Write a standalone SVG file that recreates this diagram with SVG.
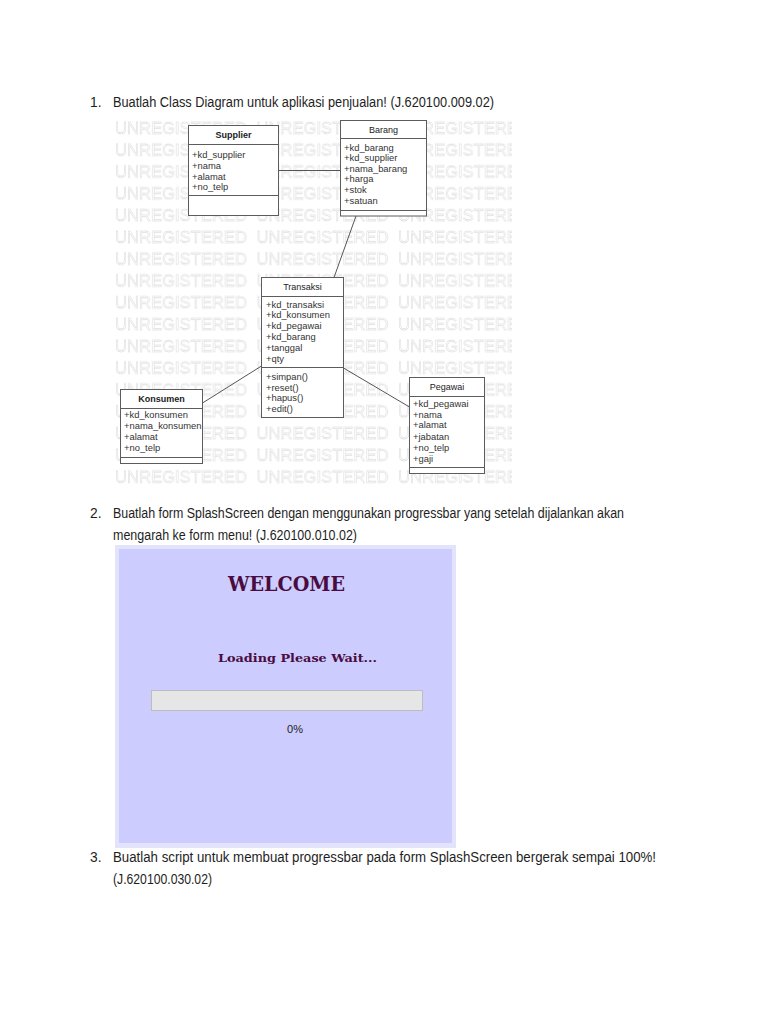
<svg xmlns="http://www.w3.org/2000/svg" width="768" height="1024" viewBox="0 0 768 1024">
<style>
.body{font-family:"Liberation Sans",Arial,sans-serif;font-size:13.8px;fill:#1e1e1e}
.box{fill:#fff;stroke:#5c5c5c;stroke-width:1}
.sep{stroke:#5c5c5c;stroke-width:1}
.t{font-family:"Liberation Sans",Arial,sans-serif;font-size:9.4px;fill:#333}
.title{font-size:9px;text-anchor:middle;fill:#222}
.b{font-weight:bold}
.conn{stroke:#555;stroke-width:1;fill:none}
.wm{font-family:"Liberation Sans",Arial,sans-serif;font-size:16.6px;fill:#fff;stroke:#d0d0d0;stroke-width:0.4}
.fancy{font-family:"DejaVu Serif",serif;font-weight:bold;fill:#4a0c40}
</style>
<defs>
<pattern id="wmp" patternUnits="userSpaceOnUse" x="113" y="117" width="141.5" height="21.8">
<text class="wm" x="2" y="17" textLength="132" lengthAdjust="spacingAndGlyphs">UNREGISTERED</text>
</pattern>
</defs>
<rect width="768" height="1024" fill="#fff"/>

<g id="text1">
<text class="body" x="90" y="107">1.</text>
<text class="body" x="113" y="107" textLength="381" lengthAdjust="spacingAndGlyphs">Buatlah Class Diagram untuk aplikasi penjualan! (J.620100.009.02)</text>
</g>

<g id="watermark">
<rect x="113" y="117" width="399" height="371" fill="url(#wmp)"/>
</g>

<g id="connectors">
<path class="conn" d="M278.5 170.5 H340.5"/>
<path class="conn" d="M356 216 L334 277.5"/>
<path class="conn" d="M202.5 403 L261.5 366"/>
<path class="conn" d="M343.5 368 L409.5 407"/>
</g>

<g id="supplier">
<rect class="box" x="188.5" y="125.5" width="90" height="90"/>
<line class="sep" x1="188.5" y1="144.5" x2="278.5" y2="144.5"/>
<line class="sep" x1="188.5" y1="195.5" x2="278.5" y2="195.5"/>
<text class="t title b" x="233.5" y="138">Supplier</text>
<text class="t" x="192" y="158">+kd_supplier</text>
<text class="t" x="192" y="169">+nama</text>
<text class="t" x="192" y="179.5">+alamat</text>
<text class="t" x="192" y="190">+no_telp</text>
</g>

<g id="barang">
<rect class="box" x="340.5" y="120.5" width="86" height="95.5"/>
<line class="sep" x1="340.5" y1="138.5" x2="426.5" y2="138.5"/>
<line class="sep" x1="340.5" y1="210.5" x2="426.5" y2="210.5"/>
<text class="t title" x="383.5" y="132.5">Barang</text>
<text class="t" x="344" y="150.5">+kd_barang</text>
<text class="t" x="344" y="161">+kd_supplier</text>
<text class="t" x="344" y="171.5">+nama_barang</text>
<text class="t" x="344" y="182">+harga</text>
<text class="t" x="344" y="192.5">+stok</text>
<text class="t" x="344" y="204">+satuan</text>
</g>

<g id="transaksi">
<rect class="box" x="261.5" y="277.5" width="82" height="140"/>
<line class="sep" x1="261.5" y1="296.5" x2="343.5" y2="296.5"/>
<line class="sep" x1="261.5" y1="367.5" x2="343.5" y2="367.5"/>
<text class="t title" x="302.5" y="290">Transaksi</text>
<text class="t" x="266" y="307.5">+kd_transaksi</text>
<text class="t" x="266" y="318">+kd_konsumen</text>
<text class="t" x="266" y="329">+kd_pegawai</text>
<text class="t" x="266" y="340">+kd_barang</text>
<text class="t" x="266" y="351">+tanggal</text>
<text class="t" x="266" y="362">+qty</text>
<text class="t" x="266" y="380">+simpan()</text>
<text class="t" x="266" y="390.5">+reset()</text>
<text class="t" x="266" y="401">+hapus()</text>
<text class="t" x="266" y="411.5">+edit()</text>
</g>

<g id="konsumen">
<rect class="box" x="120.5" y="389.5" width="82" height="74"/>
<line class="sep" x1="120.5" y1="408.5" x2="202.5" y2="408.5"/>
<line class="sep" x1="120.5" y1="457.5" x2="202.5" y2="457.5"/>
<text class="t title b" x="161.5" y="402">Konsumen</text>
<text class="t" x="124" y="417.5">+kd_konsumen</text>
<text class="t" x="124" y="428.5">+nama_konsumen</text>
<text class="t" x="124" y="439.5">+alamat</text>
<text class="t" x="124" y="451">+no_telp</text>
</g>

<g id="pegawai">
<rect class="box" x="409.5" y="377.5" width="75" height="96"/>
<line class="sep" x1="409.5" y1="396.5" x2="484.5" y2="396.5"/>
<line class="sep" x1="409.5" y1="467.5" x2="484.5" y2="467.5"/>
<text class="t title" x="447" y="390">Pegawai</text>
<text class="t" x="413" y="406.5">+kd_pegawai</text>
<text class="t" x="413" y="417.5">+nama</text>
<text class="t" x="413" y="428">+alamat</text>
<text class="t" x="413" y="439.5">+jabatan</text>
<text class="t" x="413" y="450.5">+no_telp</text>
<text class="t" x="413" y="462">+gaji</text>
</g>

<g id="text2">
<text class="body" x="90" y="518">2.</text>
<text class="body" x="113" y="518" textLength="511" lengthAdjust="spacingAndGlyphs">Buatlah form SplashScreen dengan menggunakan progressbar yang setelah dijalankan akan</text>
<text class="body" x="113" y="540" textLength="244" lengthAdjust="spacingAndGlyphs">mengarah ke form menu! (J.620100.010.02)</text>
</g>

<g id="splash">
<rect x="115" y="545" width="341" height="303" fill="#e3e3fb"/>
<rect x="119" y="549" width="333" height="294" fill="#ccccff"/>
<text class="fancy" x="228" y="591" font-size="20" textLength="117" lengthAdjust="spacingAndGlyphs">WELCOME</text>
<text class="fancy" x="218" y="662" font-size="11" textLength="159" lengthAdjust="spacingAndGlyphs">Loading Please Wait...</text>
<rect x="151.5" y="690.5" width="271" height="20" fill="#e6e6e6" stroke="#bdbdbd" stroke-width="1"/>
<text x="295" y="733" font-family="Liberation Sans, Arial, sans-serif" font-size="11" fill="#222" text-anchor="middle">0%</text>
</g>

<g id="text3">
<text class="body" x="90" y="862">3.</text>
<text class="body" x="113" y="862" textLength="543" lengthAdjust="spacingAndGlyphs">Buatlah script untuk membuat progressbar pada form SplashScreen bergerak sempai 100%!</text>
<text class="body" x="113" y="884" textLength="99" lengthAdjust="spacingAndGlyphs">(J.620100.030.02)</text>
</g>
</svg>
